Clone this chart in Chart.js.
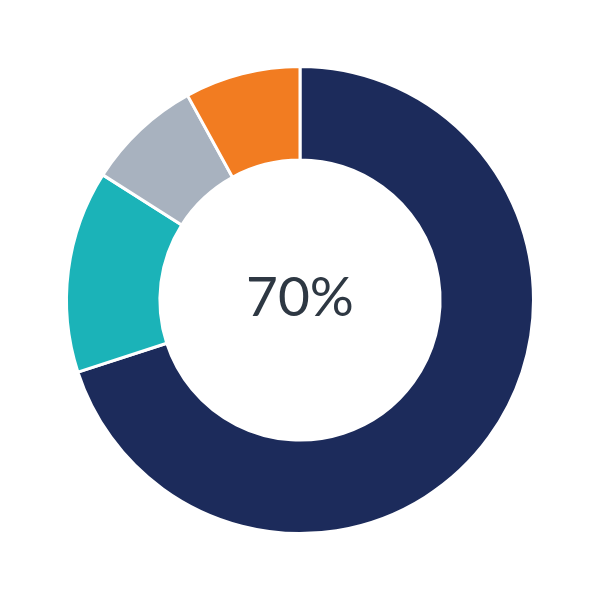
<!DOCTYPE html>
<html>
<head>
<meta charset="utf-8">
<script src="https://cdn.jsdelivr.net/npm/chart.js@4"></script>
<style>
  html, body { margin: 0; padding: 0; background: #fff; }
  #wrap { width: 600px; height: 600px; }
</style>
</head>
<body>
<div id="wrap"><canvas id="donutChart"></canvas></div>
<script>
// Données du graphique
var labels = ["A", "B", "C", "D"];
var values = [70, 14, 8, 8];
var colors = ["#1c2b5b", "#1bb3b8", "#a8b2bf", "#f27c21"];
var centerLabel = "70%";

// Texte au centre
var centerText = {
    id: 'centerText',
    afterDraw: function (chart) {
        var ctx = chart.ctx;
        var meta = chart.getDatasetMeta(0).data[0];
        ctx.save();
        ctx.font = '400 55px Lato';
        ctx.fillStyle = '#2e3843';
        ctx.textAlign = 'center';
        ctx.textBaseline = 'middle';
        ctx.fillText(centerLabel, meta.x, meta.y - 2);
        ctx.restore();
    }
};

var donutCanvas = document.getElementById('donutChart').getContext('2d');
var donutChart = new Chart(donutCanvas, {
    type: 'doughnut',
    data: {
        labels: labels,
        datasets: [{
            data: values,
            backgroundColor: colors,
            borderColor: '#ffffff',
            borderWidth: 3
        }]
    },
    options: {
        responsive: true,
        maintainAspectRatio: false,
        animation: false,
        cutout: '60%',
        layout: { padding: 65 },
        plugins: {
            legend: { display: false },
            tooltip: { enabled: false }
        }
    },
    plugins: [centerText]
});
</script>
</body>
</html>
